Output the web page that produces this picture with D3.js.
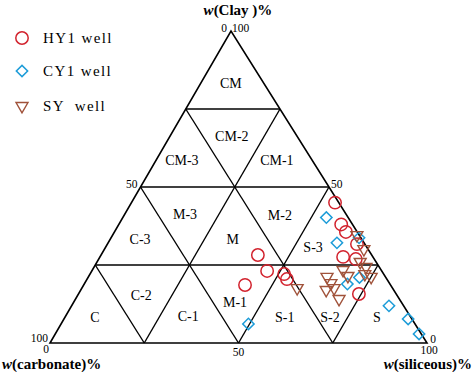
<!DOCTYPE html>
<html>
<head>
<meta charset="utf-8">
<script src="https://cdn.jsdelivr.net/npm/d3@7"></script>
<style>
  body { margin: 0; background: #fff; }
  svg { display: block; font-family: "Liberation Serif", "Times New Roman", serif; }
</style>
</head>
<body>
<svg width="474" height="372"></svg>
<script>
// samples as [clay %, siliceous %], carbonate = rest
const hy1 = [[45, 54], [38, 59], [35.6, 61.4], [31.7, 66.2], [27.6, 64.5], [26.9, 68.2],
  [15.7, 74.4], [28.2, 41.6], [23.1, 46.5], [22.1, 51.5], [20.5, 53], [18.6, 42.8]];
const cy1 = [[40.2, 54], [32.1, 60.7], [33.7, 65.8], [18.9, 69.8], [21, 72], [11.9, 84.2],
  [7.7, 91.3], [2.9, 96.5], [6.1, 49.7]];
const sy = [[30.1, 68.8], [26, 69.8], [24.4, 72.1], [21.2, 75], [22.1, 72.9], [23.4, 66.5],
  [21.5, 68.7], [21.2, 63.3], [19.2, 65.3], [17, 65.1], [17.6, 66.9], [14.1, 69.9],
  [17.6, 57.1], [34.6, 64.8]];

const gridSteps = [25, 50, 75];

const regionNames = ["CM", "CM-2", "CM-3", "CM-1", "C-3", "M-3", "M", "M-2", "S-3",
  "C-2", "C-1", "M-1", "C", "S-1", "S-2", "S"];
const regionClay = [83.3, 66.3, 58.7, 58.7, 33.3, 41.3, 33.3, 41, 30.8,
  15.4, 8.7, 13.1, 8.3, 8.3, 8.3, 8.3];
const regionSil = [8, 16.4, 6.8, 32, 7.9, 16, 32.5, 41.3, 55,
  16.8, 32.5, 42.8, 7.9, 58.3, 70.3, 82.7];

const legendNames = ["HY1 well", "CY1 well", "SY  well"];

const svg = d3.select("svg");

const xScale = d3.scaleLinear().domain([0, 100]).range([50, 427]),
  yScale = d3.scaleLinear().domain([0, 100]).range([343, 31]);
const apexShift = xScale.invert(231); // apex sits a bit left of the base midpoint

const px = (c, s) => xScale(s + (c * apexShift) / 100);
const py = c => yScale(c);

const red = "#d2232e", blue = "#1c9cd8", brown = "#a0523a";

// grid lines: constant clay, constant siliceous, constant carbonate
const segs = [];
gridSteps.forEach(k => {
  segs.push([[k, 0], [k, 100 - k]]);
  segs.push([[0, k], [100 - k, k]]);
  segs.push([[0, 100 - k], [100 - k, 0]]);
});

const g = svg.append("g");

g.selectAll(".grid")
  .data(segs)
  .enter()
  .append("line")
  .attr("x1", d => px(d[0][0], d[0][1]))
  .attr("y1", d => py(d[0][0]))
  .attr("x2", d => px(d[1][0], d[1][1]))
  .attr("y2", d => py(d[1][0]))
  .attr("stroke", "#000")
  .attr("stroke-width", 1.4);

const outer = [[0, 0], [0, 100], [100, 0]];
g.append("polygon")
  .attr("points", outer.map(d => `${px(d[0], d[1])},${py(d[0])}`).join(" "))
  .attr("fill", "none")
  .attr("stroke", "#000")
  .attr("stroke-width", 1.6)
  .attr("stroke-linejoin", "miter");

// region names
g.selectAll(".region")
  .data(regionNames)
  .enter()
  .append("text")
  .attr("x", (d, i) => px(regionClay[i], regionSil[i]))
  .attr("y", (d, i) => py(regionClay[i]) + 5)
  .attr("text-anchor", "middle")
  .attr("font-size", "14px")
  .text(d => d);

// tick labels at the corners and midpoints
const ticks = g.append("g").attr("font-size", "11.5px");
ticks.append("text").attr("x", px(100, 0) - 4).attr("y", py(100) + 1)
  .attr("text-anchor", "end").text("0");
ticks.append("text").attr("x", px(100, 0) + 1).attr("y", py(100) + 1).text("100");
ticks.append("text").attr("x", px(50, 0) - 3).attr("y", py(50) + 1)
  .attr("text-anchor", "end").text("50");
ticks.append("text").attr("x", px(50, 50) + 2).attr("y", py(50) + 1).text("50");
ticks.append("text").attr("x", px(0, 0) - 2).attr("y", py(0) - 1)
  .attr("text-anchor", "end").text("100");
ticks.append("text").attr("x", px(0, 0) - 4).attr("y", py(0) + 10)
  .attr("text-anchor", "middle").text("0");
ticks.append("text").attr("x", px(0, 50)).attr("y", py(0) + 13)
  .attr("text-anchor", "middle").text("50");
ticks.append("text").attr("x", px(0, 100) + 6).attr("y", py(0))
  .attr("text-anchor", "middle").text("0");
ticks.append("text").attr("x", px(0, 100) + 2).attr("y", py(0) + 11)
  .attr("text-anchor", "middle").text("100");

// axis titles
function title(x, y, anchor, name) {
  const t = svg.append("text")
    .attr("x", x)
    .attr("y", y)
    .attr("text-anchor", anchor)
    .attr("font-size", "15px")
    .attr("font-weight", "bold")
    .attr("xml:space", "preserve");
  t.append("tspan").attr("font-style", "italic").text("w");
  t.append("tspan").text(name);
}
title(238, 15, "middle", "(Clay )%");
title(2, 369, "start", "(carbonate)%");
title(472, 369, "end", "(siliceous)%");

// markers
const diamond = d3.symbol(d3.symbolSquare, 64)();
const tri = d3.symbol(d3.symbolTriangle, 62)();

g.selectAll(".hy1")
  .data(hy1)
  .enter()
  .append("circle")
  .attr("cx", d => px(d[0], d[1]))
  .attr("cy", d => py(d[0]))
  .attr("r", 6.2)
  .attr("fill", "none")
  .attr("stroke", red)
  .attr("stroke-width", 1.5);

g.selectAll(".cy1")
  .data(cy1)
  .enter()
  .append("path")
  .attr("d", diamond)
  .attr("transform", d => `translate(${px(d[0], d[1])},${py(d[0])}) rotate(45)`)
  .attr("fill", "none")
  .attr("stroke", blue)
  .attr("stroke-width", 1.5);

g.selectAll(".sy")
  .data(sy)
  .enter()
  .append("path")
  .attr("d", tri)
  .attr("transform", d => `translate(${px(d[0], d[1])},${py(d[0])}) rotate(180)`)
  .attr("fill", "none")
  .attr("stroke", brown)
  .attr("stroke-width", 1.4);

// legend
const legend = svg.append("g").attr("transform", "translate(22, 38)");
const rows = legend.selectAll("g")
  .data(legendNames)
  .enter()
  .append("g")
  .attr("transform", (d, i) => `translate(0, ${[0, 33, 68][i]})`);

rows.each(function (d, i) {
  const r = d3.select(this);
  if (i === 0) {
    r.append("circle").attr("r", 6.2).attr("fill", "none")
      .attr("stroke", red).attr("stroke-width", 1.5);
  } else if (i === 1) {
    r.append("path").attr("d", diamond).attr("transform", "rotate(45)")
      .attr("fill", "none").attr("stroke", blue).attr("stroke-width", 1.5);
  } else {
    r.append("path").attr("d", tri).attr("transform", "rotate(180)")
      .attr("fill", "none").attr("stroke", brown).attr("stroke-width", 1.4);
  }
});

rows.append("text")
  .attr("x", 21)
  .attr("y", 5)
  .attr("font-size", "15px")
  .attr("letter-spacing", "1.4px")
  .attr("xml:space", "preserve")
  .text(d => d);
</script>
</body>
</html>
